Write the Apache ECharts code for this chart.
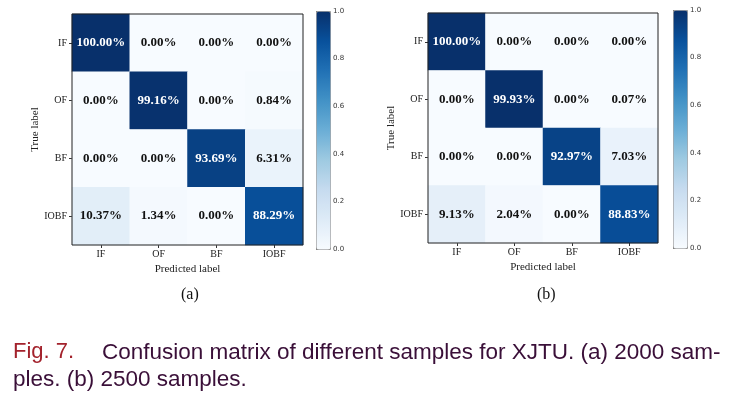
<!DOCTYPE html>
<html>
<head>
<meta charset="utf-8">
<script src="https://cdn.jsdelivr.net/npm/echarts@6/dist/echarts.min.js"></script>
<style>
  html, body { margin: 0; padding: 0; background: #fff; }
  #main { width: 738px; height: 399px; }
</style>
</head>
<body>
<div id="main"></div>
<script>
// 类别
var labels = ["IF", "OF", "BF", "IOBF"];
// (a) 2000 samples, 行 = true label
var matA = [
  [100.00, 0.00, 0.00, 0.00],
  [0.00, 99.16, 0.00, 0.84],
  [0.00, 0.00, 93.69, 6.31],
  [10.37, 1.34, 0.00, 88.29]
];
// (b) 2500 samples
var matB = [
  [100.00, 0.00, 0.00, 0.00],
  [0.00, 99.93, 0.00, 0.07],
  [0.00, 0.00, 92.97, 7.03],
  [9.13, 2.04, 0.00, 88.83]
];
// matplotlib Blues
var blues = ["#f7fbff", "#deebf7", "#c6dbef", "#9ecae1", "#6baed6",
             "#4292c6", "#2171b5", "#08519c", "#08306b"];

var serif = "Liberation Serif";

function toData(mat) {
  var out = [];
  for (var i = 0; i < mat.length; i++) {
    for (var j = 0; j < mat[i].length; j++) {
      var v = mat[i][j] / 100;
      out.push({
        value: [j, i, v],
        label: { color: v > 0.5 ? "#fff" : "#111" }
      });
    }
  }
  return out;
}

function catAxisX(gi) {
  return {
    type: "category", gridIndex: gi, data: labels,
    name: "Predicted label", nameLocation: "middle", nameGap: 14,
    nameTextStyle: { fontFamily: serif, fontSize: 11, color: "#222" },
    axisLine: { show: false },
    axisTick: { show: true, alignWithLabel: true, length: 3, lineStyle: { color: "#333" } },
    axisLabel: { fontFamily: serif, fontSize: 10, color: "#222", margin: 4 },
    splitLine: { show: false }
  };
}
function catAxisY(gi, gap) {
  return {
    type: "category", gridIndex: gi, data: labels, inverse: true,
    name: "True label", nameLocation: "middle", nameGap: gap, nameRotate: 90,
    nameTextStyle: { fontFamily: serif, fontSize: 11, color: "#222" },
    axisLine: { show: false },
    axisTick: { show: true, alignWithLabel: true, length: 3, lineStyle: { color: "#333" } },
    axisLabel: { fontFamily: serif, fontSize: 10, color: "#222", margin: 5 },
    splitLine: { show: false }
  };
}
// 色条刻度轴
function barAxisY(gi) {
  return {
    type: "value", gridIndex: gi, min: 0, max: 1, interval: 0.2, position: "right",
    axisLine: { show: false },
    axisTick: { show: true, length: 2, lineStyle: { color: "#444" } },
    axisLabel: { fontSize: 7, color: "#333", margin: 3, fontFamily: "DejaVu Sans",
      formatter: function (v) { return v.toFixed(1); } },
    splitLine: { show: false }
  };
}
function gridBox(l, t, w, h) {
  return { left: l, top: t, width: w, height: h, show: true, z: 5,
    backgroundColor: "transparent", borderColor: "#222", borderWidth: 1 };
}
function heat(gi, mat) {
  return {
    type: "heatmap", xAxisIndex: gi, yAxisIndex: gi, data: toData(mat),
    label: { show: true, fontFamily: serif, fontWeight: "bold", fontSize: 13,
      formatter: function (p) { return (p.value[2] * 100).toFixed(2) + "%"; } },
    emphasis: { disabled: true }
  };
}
function colorBar(si, l, t, h) {
  return {
    type: "continuous", seriesIndex: si, min: 0, max: 1, calculable: false,
    hoverLink: false, orient: "vertical", left: l, top: t, itemWidth: 14, itemHeight: h,
    padding: 0, borderColor: "#999", borderWidth: 1, text: null, showLabel: false,
    inRange: { color: blues }
  };
}

var chart = echarts.init(document.getElementById("main"));
chart.setOption({
  animation: false,
  grid: [
    gridBox(72, 14, 231, 231),
    gridBox(428, 13, 230, 230),
    { left: 316, top: 11, width: 14, height: 238, show: false },
    { left: 673, top: 10, width: 14, height: 238, show: false }
  ],
  xAxis: [
    catAxisX(0), catAxisX(1),
    { type: "value", gridIndex: 2, show: false },
    { type: "value", gridIndex: 3, show: false }
  ],
  yAxis: [catAxisY(0, 28), catAxisY(1, 29), barAxisY(2), barAxisY(3)],
  visualMap: [colorBar(0, 316, 11, 238), colorBar(1, 673, 10, 238)],
  series: [heat(0, matA), heat(1, matB)],
  graphic: [
    { type: "text", left: 181, top: 287,
      style: { text: "(a)", font: "16px Liberation Serif", fill: "#111" } },
    { type: "text", left: 537, top: 287,
      style: { text: "(b)", font: "16px Liberation Serif", fill: "#111" } },
    { type: "text", left: 13, top: 341,
      style: { text: "Fig. 7.", font: "22px Liberation Sans", fill: "#a3222c" } },
    { type: "text", left: 102, top: 341,
      style: { text: "Confusion matrix of different samples for XJTU. (a) 2000 sam-",
        font: "22.5px Liberation Sans", fill: "#3a0f38" } },
    { type: "text", left: 13, top: 368,
      style: { text: "ples. (b) 2500 samples.", font: "22.5px Liberation Sans", fill: "#3a0f38" } }
  ]
});
</script>
</body>
</html>
